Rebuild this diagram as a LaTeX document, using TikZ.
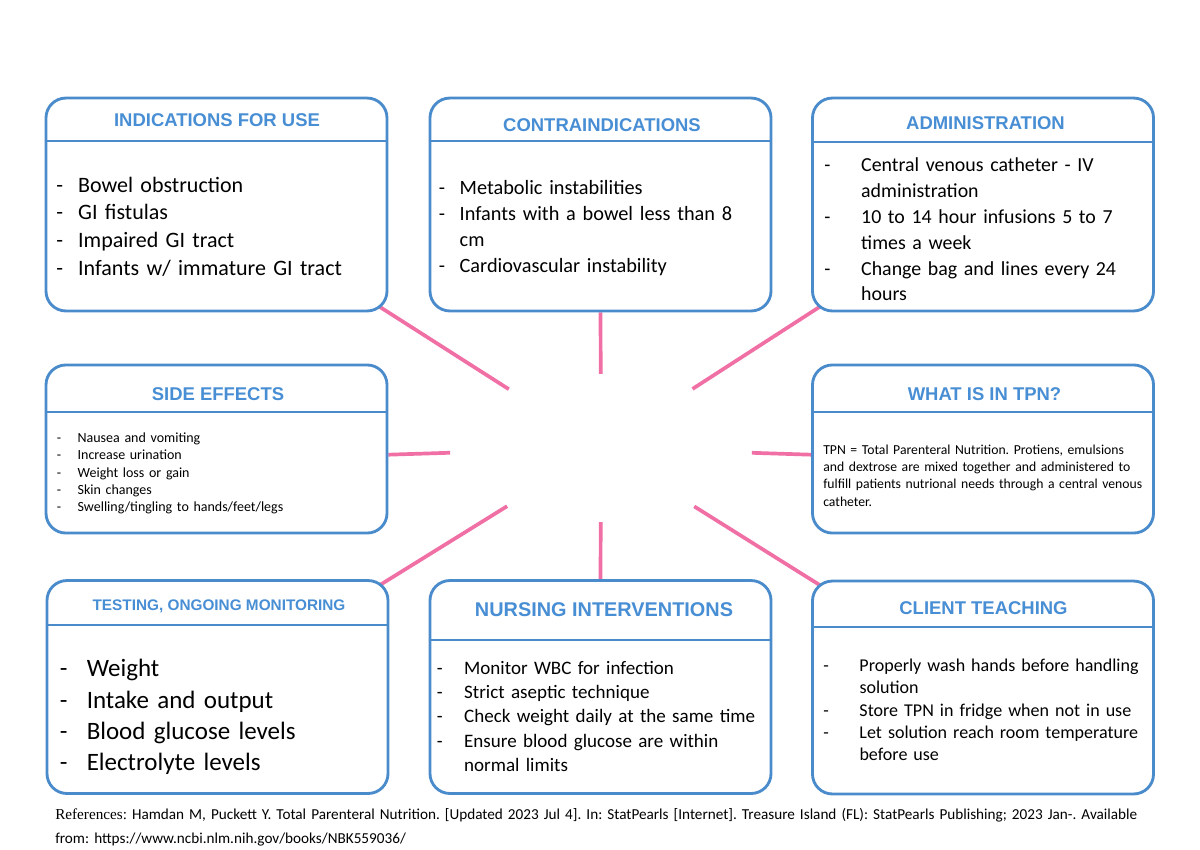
\documentclass[tikz,border=0pt]{standalone}
\usepackage{fontspec}
\setmainfont{Carlito}
\newfontfamily\headfont{Liberation Sans}
\newfontfamily\reffont{Liberation Serif}
\usetikzlibrary{shapes.geometric, backgrounds}
\frenchspacing

\definecolor{cardblue}{RGB}{74,139,204}
\definecolor{headblue}{RGB}{72,142,212}
\definecolor{spokepink}{RGB}{240,112,165}

% one dash item with hanging indent, and a plain line break
\newlength\dashw
\newcommand\dashitem[1]{\noindent\hangindent=\dashw\hangafter=1\makebox[\dashw][l]{-}#1\par}
\newcommand\brk{\hfil\break}

\tikzset{
  card/.style={draw=cardblue, fill=white, line width=2pt, rounded corners=14pt,
    minimum width=8.44cm, minimum height=5.27cm, inner sep=0pt},
  low/.style={minimum height=4.16cm},
  head/.style={text=headblue, inner sep=0pt,
    font=\headfont\bfseries\fontsize{#1}{#1}\selectfont},
  head/.default=13,
  rule/.style={draw=cardblue, line width=1.5pt},
  body/.style={anchor=base west, inner sep=0pt, text width=8.6cm,
    execute at begin node=\raggedright},
  spoke/.style={draw=spokepink, line width=2.6pt},
  corner/.style={shorten >=-10pt},
  hubshape/.style={ellipse, minimum width=7.47cm, minimum height=3.66cm, inner sep=0pt}
}

\begin{document}
\begin{tikzpicture}[x=0.02475cm, y=-0.02475cm]
    \useasboundingbox (0,0) rectangle (1200,849);

    % boxes
    \node[card] (ind) at (216.5,204.5) {};
    \node[card] (con) at (600.5,204.5) {};
    \node[card] (adm) at (983,204.5) {};
    \node[card, low] (side) at (216.5,449) {};
    \node[card, low] (tpn) at (983,449) {};
    \node[card] (test) at (217.5,687) {};
    \node[card] (nur) at (600.5,687) {};
    \node[card] (cli) at (983,687.5) {};

    % header rules
    \draw[rule] (ind.west |- 0,141) -- (ind.east |- 0,141);
    \draw[rule] (con.west |- 0,141) -- (con.east |- 0,141);
    \draw[rule] (adm.west |- 0,142) -- (adm.east |- 0,142);
    \draw[rule] (side.west |- 0,412) -- (side.east |- 0,412);
    \draw[rule] (tpn.west |- 0,412) -- (tpn.east |- 0,412);
    \draw[rule] (test.west |- 0,625) -- (test.east |- 0,625);
    \draw[rule] (nur.west |- 0,640) -- (nur.east |- 0,640);
    \draw[rule] (cli.west |- 0,627) -- (cli.east |- 0,627);

    % titles
    \node[head] (indT) at (217,120.5) {INDICATIONS FOR USE};
    \node[head] (conT) at (602,125.5) {CONTRAINDICATIONS};
    \node[head] (admT) at (985.5,123) {ADMINISTRATION};
    \node[head] (sideT) at (218,394.5) {SIDE EFFECTS};
    \node[head] (tpnT) at (984.5,394.5) {WHAT IS IN TPN?};
    \node[head=10.8] (testT) at (219,606) {TESTING, ONGOING MONITORING};
    \node[head=14] (nurT) at (604,610) {NURSING INTERVENTIONS};
    \node[head] (cliT) at (983.5,608) {CLIENT TEACHING};

    % lists
    \node[body, font=\fontsize{15.5}{19.6}\selectfont] (indB) at (56,192) {\setlength\dashw{15.4pt}%
        \dashitem{Bowel obstruction}
        \dashitem{GI fistulas}
        \dashitem{Impaired GI tract}
        \dashitem{Infants w/ immature GI tract}};
    \node[body, font=\fontsize{14.3}{18.2}\selectfont] (conB) at (438.5,194.5) {\setlength\dashw{14.7pt}%
        \dashitem{Metabolic instabilities}
        \dashitem{Infants with a bowel less than 8\brk cm}
        \dashitem{Cardiovascular instability}};
    \node[body, font=\fontsize{14}{18.2}\selectfont] (admB) at (824,171.7) {\setlength\dashw{26pt}%
        \dashitem{Central venous catheter - IV\brk administration}
        \dashitem{10 to 14 hour infusions 5 to 7\brk times a week}
        \dashitem{Change bag and lines every 24\brk hours}};
    \node[body, font=\fontsize{9.85}{12.1}\selectfont] (sideB) at (56.5,442.7) {\setlength\dashw{14.7pt}%
        \dashitem{Nausea and vomiting}
        \dashitem{Increase urination}
        \dashitem{Weight loss or gain}
        \dashitem{Skin changes}
        \dashitem{Swelling/tingling to hands/feet/legs}};
    \node[body, font=\fontsize{9.65}{12.2}\selectfont] (tpnB) at (823,454.3) {TPN = Total Parenteral Nutrition. Protiens, emulsions\brk
        and dextrose are mixed together and administered to\brk
        fulfill patients nutrional needs through a central venous\brk
        catheter.};
    \node[body, font=\fontsize{17.6}{22.1}\selectfont] (testB) at (59.5,676.7) {\setlength\dashw{19pt}%
        \dashitem{Weight}
        \dashitem{Intake and output}
        \dashitem{Blood glucose levels}
        \dashitem{Electrolyte levels}};
    \node[body, font=\fontsize{13.4}{17.1}\selectfont] (nurB) at (436.5,674.3) {\setlength\dashw{19.3pt}%
        \dashitem{Monitor WBC for infection}
        \dashitem{Strict aseptic technique}
        \dashitem{Check weight daily at the same time}
        \dashitem{Ensure blood glucose are within\brk normal limits}};
    \node[body, font=\fontsize{12.7}{15.6}\selectfont] (cliB) at (823,671.7) {\setlength\dashw{25.5pt}%
        \dashitem{Properly wash hands before handling\brk solution}
        \dashitem{Store TPN in fridge when not in use}
        \dashitem{Let solution reach room temperature\brk before use}};

    % spokes round the empty middle, under the boxes
    \node[hubshape] (hub) at (601,448) {};
    \begin{scope}[on background layer]
        \fill[white] (0,0) rectangle (1200,849);
        \draw[spoke, corner] (hub) -- (ind.south east);
        \draw[spoke] (hub) -- (con.south);
        \draw[spoke, corner] (hub) -- (adm.south west);
        \draw[spoke] (hub) -- ([yshift=-4pt]side.east);
        \draw[spoke] (hub) -- ([yshift=-4pt]tpn.west);
        \draw[spoke, corner] (hub) -- (test.north east);
        \draw[spoke] (hub) -- (nur.north);
        \draw[spoke, corner] (hub) -- (cli.north west);
    \end{scope}

    % references
    \node[body, text width=28cm, font=\fontsize{10.7}{16.8}\selectfont] (refs) at (55,819.5) {{\reffont References:} Hamdan M, Puckett Y. Total Parenteral Nutrition. [Updated 2023 Jul 4]. In: StatPearls [Internet]. Treasure Island (FL): StatPearls Publishing; 2023 Jan-. Available\brk
        from: https://www.ncbi.nlm.nih.gov/books/NBK559036/};
\end{tikzpicture}
\end{document}
